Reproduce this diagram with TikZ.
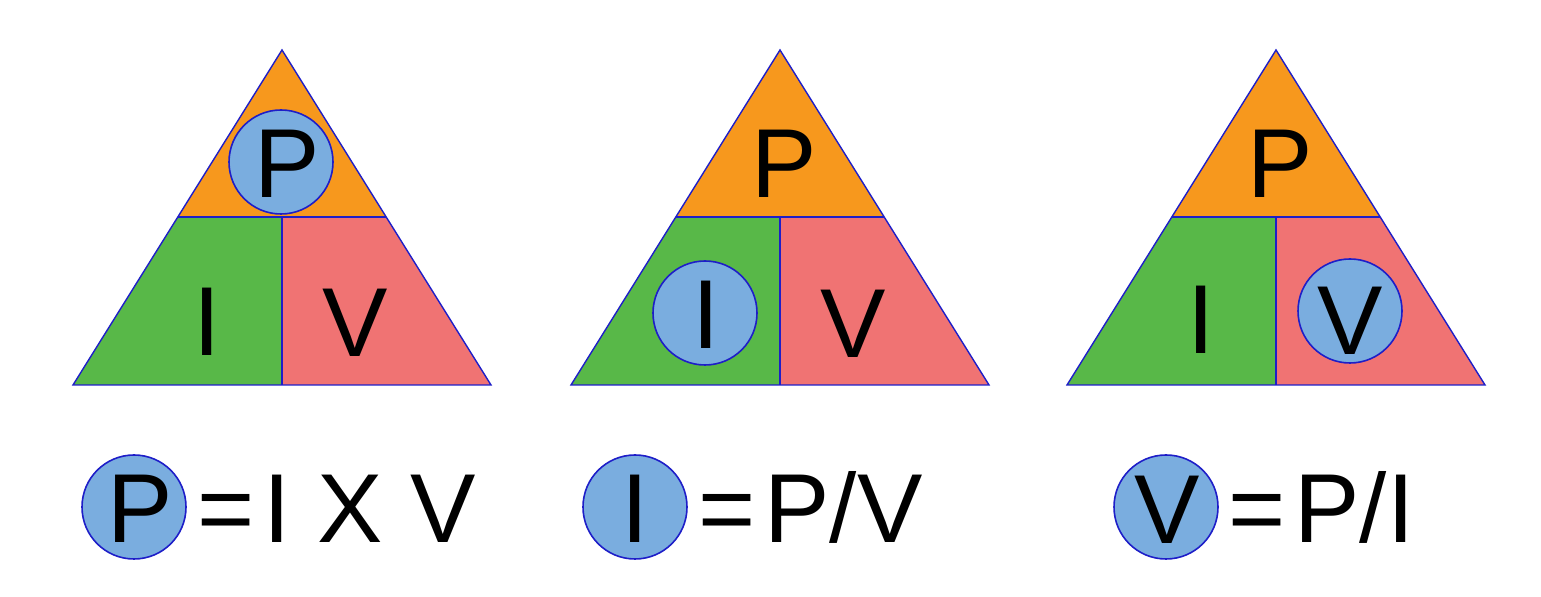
\documentclass[tikz,border=0pt]{standalone}
\usepackage{fontspec}
\setmainfont{Liberation Sans}
\usetikzlibrary{positioning}

\definecolor{powerorange}{RGB}{247,152,29}
\definecolor{currentgreen}{RGB}{88,184,72}
\definecolor{voltred}{RGB}{240,115,115}
\definecolor{ringfill}{RGB}{122,173,223}
\definecolor{lineblue}{RGB}{30,30,200}

\begin{document}
\begin{tikzpicture}[
  x=0.5pt, y=-0.5pt,
  every node/.style={font=\fontsize{49pt}{58pt}\selectfont, inner sep=0pt},
  triline/.style={draw=lineblue, line width=0.7pt, line join=miter},
  ring/.style={circle, draw=lineblue, fill=ringfill, line width=0.8pt, minimum size=52pt},
  lbl/.style={anchor=base},
  eqtxt/.style={anchor=base west}
]
\useasboundingbox (0,0) rectangle (1541,597);

% the three triangles
\foreach \dx in {0,498,994} {
  \begin{scope}[xshift=\dx*0.5pt]
    \fill[powerorange] (282,50) -- (386.2,217) -- (177.8,217) -- cycle;
    \fill[currentgreen] (177.8,217) -- (282,217) -- (282,385) -- (73,385) -- cycle;
    \fill[voltred] (282,217) -- (386.2,217) -- (491,385) -- (282,385) -- cycle;
    \draw[triline] (282,50) -- (491,385) -- (73,385) -- cycle;
    \draw[triline] (177.8,217) -- (386.2,217);
    \draw[triline] (282,217) -- (282,385);
  \end{scope}
}

% triangle 1
\node[ring] (cP1) at (281,162) {};
\node[lbl] (P1) at (287,198) {P};
\node[lbl] (I1) at (207,356) {I};
\node[lbl] (V1) at (355,357) {V};

% triangle 2
\node[lbl] (P2) at (784,198) {P};
\node[ring] (cI2) at (705,313) {};
\node[lbl] (I2) at (706,349) {I};
\node[lbl] (V2) at (853,358) {V};

% triangle 3
\node[lbl] (P3) at (1280,198) {P};
\node[lbl] (I3) at (1201,354) {I};
\node[ring] (cV3) at (1350,311) {};
\node[lbl] (V3) at (1350,355) {V};

% formulas
\node[ring] (cP) at (134,507) {};
\node[lbl] (fP) at (140,543) {P};
\node[eqtxt] (eqP) at (197,543) {=};
\node[eqtxt] (rhsP) at (263,543) {I X V};

\node[ring] (cI) at (635,507) {};
\node[lbl] (fI) at (635,543) {I};
\node[eqtxt] (eqI) at (698,543) {=};
\node[eqtxt] (rhsI) at (764,543) {P/V};

\node[ring] (cV) at (1166,507) {};
\node[lbl] (fV) at (1167,544) {V};
\node[eqtxt] (eqV) at (1228,543) {=};
\node[eqtxt] (rhsV) at (1294,543) {P/I};

\end{tikzpicture}
\end{document}
